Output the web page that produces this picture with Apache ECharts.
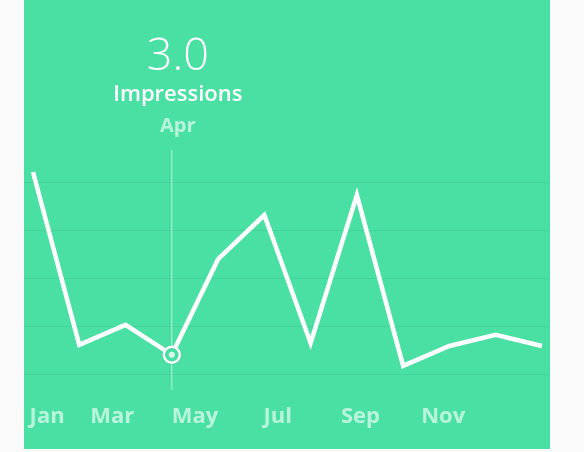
<!DOCTYPE html>
<html>
<head>
<meta charset="utf-8">
<script src="https://cdn.jsdelivr.net/npm/echarts@6/dist/echarts.min.js"></script>
<style>
  html, body { margin: 0; padding: 0; background: #fafafa; }
  #chart { position: absolute; left: 24px; top: 0; width: 526px; height: 449px; }
</style>
</head>
<body>
<div id="chart"></div>
<script>
// monthly impressions
const months = ['Jan', 'Feb', 'Mar', 'Apr', 'May', 'Jun', 'Jul', 'Aug', 'Sep', 'Oct', 'Nov', 'Dec']
const impressions = [7.76, 3.26, 3.78, 3.0, 5.49, 6.64, 3.31, 7.16, 2.71, 3.23, 3.52, 3.23]
const yTicks = [2.5, 3.75, 5, 6.25, 7.5]
const selectedIndex = 3
const seriesName = 'Impressions'
// vertical cursor runs a bit past the grid at both ends
const cursorRange = [8.33, 2.08]

const green = '#4ae0a4'
const pale = 'rgba(255,255,255,0.62)'
const font = '"Open Sans", Lato, sans-serif'

const chart = echarts.init(document.getElementById('chart'))

const lineData = impressions.map((v, i) => {
  const item = { value: [i, v] }
  if (i === selectedIndex) {
    item.symbol = 'circle'
    item.symbolSize = 16
    item.itemStyle = { color: green, borderColor: '#fff', borderWidth: 2.5, shadowColor: 'rgba(0,0,0,0.12)', shadowBlur: 2 }
  }
  return item
})

const option = {
  backgroundColor: green,
  animation: false,
  grid: [
    { left: 0, right: 0, top: 182, height: 192 },
    { left: 5.6, width: 454.9, top: 385, height: 10 }
  ],
  xAxis: [
    {
      type: 'value',
      gridIndex: 0,
      min: -0.1945,
      max: 11.174,
      show: false
    },
    {
      type: 'category',
      gridIndex: 1,
      data: months,
      boundaryGap: false,
      axisLine: { show: false },
      axisTick: { show: false },
      axisLabel: {
        interval: 1,
        margin: 11,
        color: pale,
        fontSize: 22,
        fontWeight: 'bold',
        fontFamily: font,
        alignMinLabel: 'left'
      }
    }
  ],
  yAxis: [
    {
      type: 'value',
      gridIndex: 0,
      min: yTicks[0],
      max: yTicks[yTicks.length - 1],
      interval: yTicks[1] - yTicks[0],
      axisLine: { show: false },
      axisTick: { show: false },
      axisLabel: { show: false },
      splitLine: { lineStyle: { color: 'rgba(0,0,0,0.06)', width: 1 } }
    },
    { type: 'value', gridIndex: 1, show: false }
  ],
  series: [
    {
      type: 'line',
      xAxisIndex: 0,
      yAxisIndex: 0,
      data: cursorRange.map(v => [selectedIndex, v]),
      symbol: 'none',
      silent: true,
      clip: false,
      lineStyle: { color: 'rgba(255,255,255,0.6)', width: 1 },
      z: 1
    },
    {
      name: seriesName,
      type: 'line',
      xAxisIndex: 0,
      yAxisIndex: 0,
      data: lineData,
      symbol: 'none',
      showSymbol: true,
      clip: false,
      lineStyle: { color: '#fff', width: 4.5, join: 'miter' },
      z: 3
    },
    {
      type: 'scatter',
      xAxisIndex: 0,
      yAxisIndex: 0,
      data: [[selectedIndex, impressions[selectedIndex]]],
      symbolSize: 6,
      itemStyle: { color: '#fff' },
      z: 5
    }
  ]
}

chart.setOption(option)

// readout above the selected month
const cx = chart.convertToPixel({ xAxisIndex: 0 }, selectedIndex) + 6
chart.setOption({
  graphic: [
    {
      type: 'text', x: cx, y: 57,
      style: { text: impressions[selectedIndex].toFixed(1), fill: '#fff', font: '300 45px ' + font, align: 'center', verticalAlign: 'middle' }
    },
    {
      type: 'text', x: cx, y: 95,
      style: { text: seriesName, fill: '#fff', font: '600 22px ' + font, align: 'center', verticalAlign: 'middle' }
    },
    {
      type: 'text', x: cx, y: 126,
      style: { text: months[selectedIndex], fill: pale, font: 'bold 20px ' + font, align: 'center', verticalAlign: 'middle' }
    }
  ]
})
</script>
</body>
</html>
